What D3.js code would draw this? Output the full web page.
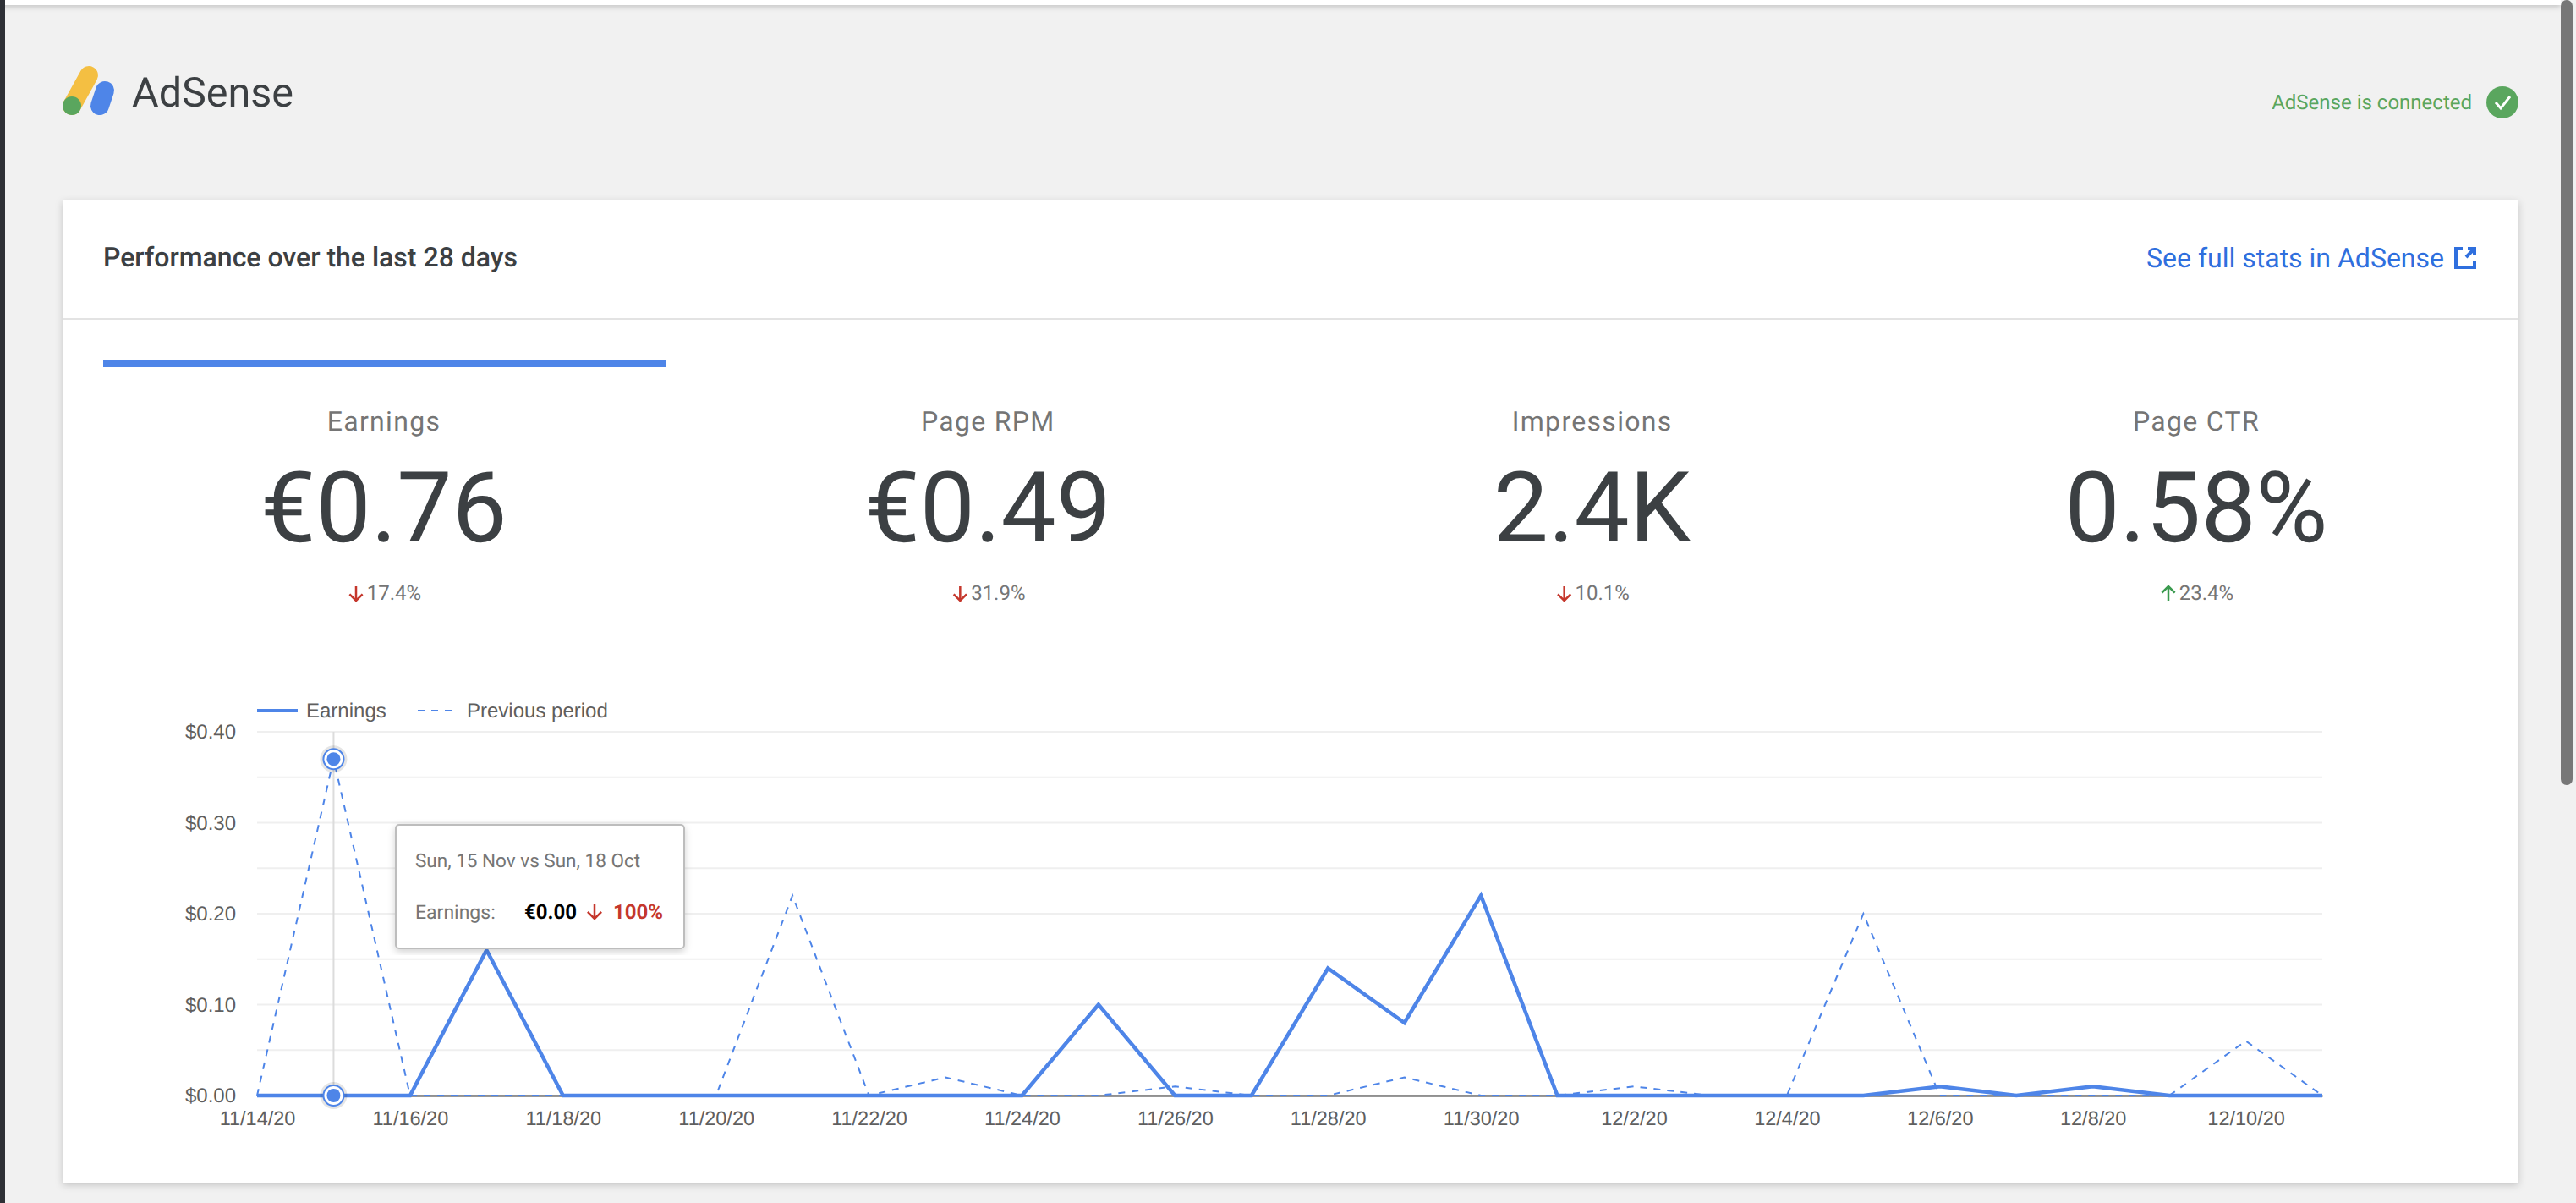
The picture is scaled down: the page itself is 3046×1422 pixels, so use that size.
<!DOCTYPE html>
<html>
<head>
<meta charset="utf-8">
<title>AdSense</title>
<script src="https://cdnjs.cloudflare.com/ajax/libs/d3/7.8.5/d3.min.js"></script>
<style>
    html, body { margin: 0; padding: 0; background: #f1f1f1; overflow: hidden; }
    svg { display: block; }
    text { font-family: Roboto, sans-serif; text-rendering: geometricPrecision; }
    .chart text { font-family: "Liberation Sans", Arial, sans-serif; }
</style>
</head>
<body>
<svg id="page" width="3046" height="1422"></svg>
<script>
    // 11/14/20 .. 12/11/20
    var days = ['11/14/20', '11/15/20', '11/16/20', '11/17/20', '11/18/20', '11/19/20', '11/20/20',
        '11/21/20', '11/22/20', '11/23/20', '11/24/20', '11/25/20', '11/26/20', '11/27/20',
        '11/28/20', '11/29/20', '11/30/20', '12/1/20', '12/2/20', '12/3/20', '12/4/20',
        '12/5/20', '12/6/20', '12/7/20', '12/8/20', '12/9/20', '12/10/20', '12/11/20'];
    var earnings = [0, 0, 0, 0.16, 0, 0, 0, 0, 0, 0, 0, 0.10, 0, 0,
        0.14, 0.08, 0.22, 0, 0, 0, 0, 0, 0.01, 0, 0.01, 0, 0, 0];
    var previous = [0, 0.37, 0, 0, 0, 0, 0, 0.22, 0, 0.02, 0, 0, 0.01, 0,
        0, 0.02, 0, 0, 0.01, 0, 0, 0.20, 0, 0, 0, 0, 0.06, 0];
    var xTickLabels = days.filter(function (d, i) { return i % 2 === 0; });
    var yTicks = [0, 0.10, 0.20, 0.30, 0.40];
    var yGrid = [0, 0.05, 0.10, 0.15, 0.20, 0.25, 0.30, 0.35, 0.40];

    var statNames = ['Earnings', 'Page RPM', 'Impressions', 'Page CTR'];
    var statValues = ['€0.76', '€0.49', '2.4K', '0.58%'];
    var statChanges = ['17.4%', '31.9%', '10.1%', '23.4%'];
    var statDown = [true, true, true, false];

    var hoverIndex = 1;

    var blue = '#4e85e8',
        dark = '#3c4043',
        grey = '#757575',
        red = '#c5372c',
        green = '#5aa65e';

    var svg = d3.select('#page');
    var defs = svg.append('defs');
    var shadow = defs.append('filter').attr('id', 'shadow')
        .attr('x', '-5%').attr('y', '-5%').attr('width', '110%').attr('height', '110%');
    shadow.append('feDropShadow').attr('dx', 0).attr('dy', 3).attr('stdDeviation', 4)
        .attr('flood-color', '#000').attr('flood-opacity', 0.18);
    // the top bar is only a few px high, percentages of its box would clip the shadow
    var barShadow = defs.append('filter').attr('id', 'barShadow')
        .attr('x', '0%').attr('y', '-100%').attr('width', '100%').attr('height', '500%');
    barShadow.append('feDropShadow').attr('dx', 0).attr('dy', 2).attr('stdDeviation', 3)
        .attr('flood-color', '#000').attr('flood-opacity', 0.22);

    var addText = function addText(parent, x, y, str, size, fill, weight, anchor) {
        return parent.append('text')
            .attr('x', x).attr('y', y)
            .attr('font-size', size)
            .attr('fill', fill)
            .attr('font-weight', weight || 400)
            .attr('text-anchor', anchor || 'start')
            .text(str);
    };

    // little arrow used next to the percentages, tip at the bottom when going down
    var addArrow = function addArrow(parent, cx, y0, y1, color, width) {
        var head = Math.abs(y1 - y0) * 0.45,
            dir = y1 > y0 ? -1 : 1;
        parent.append('path')
            .attr('d', 'M' + cx + ',' + y0 + 'L' + cx + ',' + y1 +
                'M' + (cx - head) + ',' + (y1 + dir * head) + 'L' + cx + ',' + y1 + 'L' + (cx + head) + ',' + (y1 + dir * head))
            .attr('fill', 'none')
            .attr('stroke', color)
            .attr('stroke-width', width);
    };

    // window chrome
    svg.append('rect').attr('x', 0).attr('y', 0).attr('width', 3028).attr('height', 6)
        .attr('fill', '#fff').attr('filter', 'url(#barShadow)');
    svg.append('rect').attr('x', 0).attr('y', 0).attr('width', 6).attr('height', 1422).attr('fill', '#2e3036');
    svg.append('rect').attr('x', 3028).attr('y', 0).attr('width', 18).attr('height', 1422).attr('fill', '#f1f1f1');
    svg.append('rect').attr('x', 3028).attr('y', 0).attr('width', 14).attr('height', 928).attr('rx', 7).attr('fill', '#777');

    // logo
    var logo = svg.append('g');
    logo.append('line').attr('x1', 105).attr('y1', 89).attr('x2', 85).attr('y2', 125)
        .attr('stroke', '#f4bf42').attr('stroke-width', 22).attr('stroke-linecap', 'round');
    logo.append('line').attr('x1', 124).attr('y1', 107).attr('x2', 118).attr('y2', 125)
        .attr('stroke', blue).attr('stroke-width', 22).attr('stroke-linecap', 'round');
    logo.append('circle').attr('cx', 85).attr('cy', 125).attr('r', 11).attr('fill', '#5aa65e');
    addText(svg, 156, 126, 'AdSense', 48.5, dark);

    // connection status
    addText(svg, 2923, 129, 'AdSense is connected', 24, green, 400, 'end');
    svg.append('circle').attr('cx', 2959).attr('cy', 121).attr('r', 19).attr('fill', green);
    svg.append('path').attr('d', 'M2951,121L2957,128L2968,114')
        .attr('fill', 'none').attr('stroke', '#fff').attr('stroke-width', 3);

    // card
    svg.append('rect').attr('x', 74).attr('y', 236).attr('width', 2904).attr('height', 1162)
        .attr('fill', '#fff').attr('filter', 'url(#shadow)');
    svg.append('rect').attr('x', 74).attr('y', 376).attr('width', 2904).attr('height', 2).attr('fill', '#e3e3e3');
    addText(svg, 122, 315, 'Performance over the last 28 days', 32, dark, 500);
    addText(svg, 2890, 316, 'See full stats in AdSense', 32, '#2f6fde', 400, 'end');
    svg.append('path')
        .attr('d', 'M2912,294H2904V316H2926V308M2916,304L2926,294M2918,294H2926V302')
        .attr('fill', 'none').attr('stroke', '#2f6fde').attr('stroke-width', 4);

    // selected tab
    svg.append('rect').attr('x', 122).attr('y', 426).attr('width', 666).attr('height', 8).attr('fill', blue);

    // stats row
    var statX = d3.scalePoint().domain(statNames).range([454, 2597]);
    statNames.forEach(function (name, i) {
        var cx = statX(name);
        addText(svg, cx, 509, name, 32, grey, 400, 'middle').attr('letter-spacing', 1.3);
        addText(svg, cx, 640, statValues[i], 116, dark, 400, 'middle');
        addText(svg, cx + 12, 709, statChanges[i], 24, grey, 400, 'middle');
        if (statDown[i]) {
            addArrow(svg, cx - 33, 693, 710, red, 2.5);
        } else {
            addArrow(svg, cx - 33, 710, 693, '#3a9a4e', 2.5);
        }
    });

    // chart
    var chart = svg.append('g').attr('class', 'chart');
    var x = d3.scalePoint().domain(days).range([304, 2746]);
    var y = d3.scaleLinear().domain([0, 0.4]).range([1295, 865]);

    chart.append('g').selectAll('line').data(yGrid).enter().append('line')
        .attr('x1', x.range()[0]).attr('x2', x.range()[1])
        .attr('y1', y).attr('y2', y)
        .attr('stroke', '#efefef').attr('stroke-width', 2);

    var yAxis = chart.append('g').attr('transform', 'translate(' + x.range()[0] + ',0)')
        .call(d3.axisLeft(y).tickValues(yTicks).tickFormat(d3.format('$.2f')).tickSize(0).tickPadding(25));
    yAxis.select('.domain').remove();
    yAxis.selectAll('text').attr('font-size', 24).attr('fill', '#5f5f5f')
        .attr('font-family', '"Liberation Sans", Arial, sans-serif');

    var xAxis = chart.append('g').attr('transform', 'translate(0,' + y(0) + ')')
        .call(d3.axisBottom(x).tickValues(xTickLabels).tickSize(0).tickPadding(18));
    xAxis.select('.domain').attr('stroke', '#333').attr('stroke-width', 2);
    xAxis.selectAll('text').attr('font-size', 23.5).attr('fill', '#5f5f5f')
        .attr('font-family', '"Liberation Sans", Arial, sans-serif');

    // crosshair sits under the lines
    chart.append('line')
        .attr('x1', x(days[hoverIndex])).attr('x2', x(days[hoverIndex]))
        .attr('y1', y(0.4)).attr('y2', y(0))
        .attr('stroke', '#dcdcdc').attr('stroke-width', 2);

    var line = d3.line()
        .x(function (d, i) { return x(days[i]); })
        .y(function (d) { return y(d); });

    chart.append('path').datum(previous).attr('d', line)
        .attr('fill', 'none').attr('stroke', blue).attr('stroke-width', 2).attr('stroke-dasharray', '8,8');
    chart.append('path').datum(earnings).attr('d', line)
        .attr('fill', 'none').attr('stroke', blue).attr('stroke-width', 4.5).attr('stroke-linejoin', 'miter');

    // hover markers
    chart.append('g').selectAll('g').data([earnings[hoverIndex], previous[hoverIndex]]).enter().append('g')
        .attr('transform', function (d) { return 'translate(' + x(days[hoverIndex]) + ',' + y(d) + ')'; })
        .each(function () {
            var g = d3.select(this);
            g.append('circle').attr('r', 16).attr('fill', '#000').attr('fill-opacity', 0.1);
            g.append('circle').attr('r', 13).attr('fill', blue);
            g.append('circle').attr('r', 11).attr('fill', '#fff');
            g.append('circle').attr('r', 8).attr('fill', blue);
        });

    // legend
    var legend = chart.append('g');
    legend.append('line').attr('x1', 304).attr('x2', 352).attr('y1', 840).attr('y2', 840)
        .attr('stroke', blue).attr('stroke-width', 4);
    addText(legend, 362, 848, 'Earnings', 24, '#5f5f5f');
    legend.append('line').attr('x1', 494).attr('x2', 537).attr('y1', 840).attr('y2', 840)
        .attr('stroke', blue).attr('stroke-width', 2).attr('stroke-dasharray', '8,8');
    addText(legend, 552, 848, 'Previous period', 24, '#5f5f5f');

    // tooltip
    var tip = svg.append('g');
    tip.append('rect').attr('x', 468).attr('y', 975).attr('width', 341).attr('height', 146).attr('rx', 4)
        .attr('fill', '#fff').attr('stroke', '#bdbdbd').attr('stroke-width', 2).attr('filter', 'url(#shadow)');
    addText(tip, 491, 1025, 'Sun, 15 Nov vs Sun, 18 Oct', 22.5, grey);
    addText(tip, 491, 1086, 'Earnings:', 23, grey);
    addText(tip, 620, 1086, '€' + d3.format('.2f')(earnings[hoverIndex]), 24, '#000', 700);
    addArrow(tip, 703, 1068, 1086, red, 2.5);
    addText(tip, 725, 1086, '100%', 24, red, 700);
</script>
</body>
</html>
